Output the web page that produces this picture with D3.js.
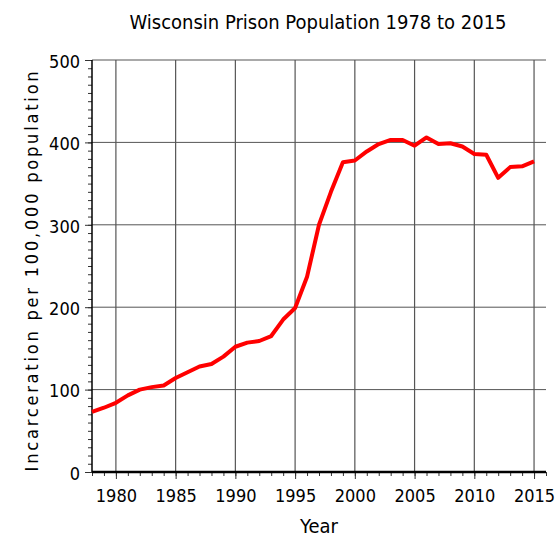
<!DOCTYPE html><html><head><script src="https://cdn.jsdelivr.net/npm/d3@7"></script>
<style>body{margin:0;background:#fff}</style></head><body><svg id="c" width="560" height="560"></svg>
<script>
const years=d3.range(1978,2016);
const values=[73,78,84,93,100,103,105,114,121,128,131,140,152,157,159,165,185,199,237,300,340,376,378,389,398,403,403,396,406,398,399,395,386,385,357,370,371,377];
const xTicks=[1980,1985,1990,1995,2000,2005,2010,2015];
const yTicks=[0,100,200,300,400,500];
const svg=d3.select("#c"),L=92,R=546,T=60,B=472;
const F="'DejaVu Sans Condensed','DejaVu Sans',sans-serif";
const x=d3.scaleLinear().domain([1978,2016]).range([L,R]);
const y=d3.scaleLinear().domain([0,500]).range([B,T]);
const g=svg.append("g");
xTicks.forEach(t=>g.append("line").attr("x1",x(t)).attr("x2",x(t)).attr("y1",T).attr("y2",B).attr("stroke","#555").attr("stroke-width",1.2));
yTicks.forEach(t=>g.append("line").attr("x1",L).attr("x2",R).attr("y1",y(t)).attr("y2",y(t)).attr("stroke","#555").attr("stroke-width",1));
const xa=svg.append("g").attr("transform",`translate(0,${B})`).call(d3.axisBottom(x).tickValues(d3.range(1978,2017)).tickSize(4).tickFormat(""));
const xb=svg.append("g").attr("transform",`translate(0,${B})`).call(d3.axisBottom(x).tickValues(xTicks).tickSize(7).tickFormat(d3.format("d")));
const ya=svg.append("g").attr("transform",`translate(${L},0)`).call(d3.axisLeft(y).tickValues(d3.range(0,501,10)).tickSize(4).tickFormat(""));
const yb=svg.append("g").attr("transform",`translate(${L},0)`).call(d3.axisLeft(y).tickValues(yTicks).tickSize(7));
[xa,xb,ya,yb].forEach(a=>{a.select(".domain").remove();a.selectAll("line").attr("stroke","#333");a.selectAll("text").attr("font-family",F).attr("font-size",18).attr("fill","#000");});
xb.selectAll("text").attr("dy","1.1em");
yb.selectAll("text").attr("dy","0.4em").attr("dx","-2");
svg.append("line").attr("x1",L).attr("x2",R).attr("y1",B).attr("y2",B).attr("stroke","#000").attr("stroke-width",2.5);
svg.append("line").attr("x1",L).attr("x2",L).attr("y1",T).attr("y2",B).attr("stroke","#000").attr("stroke-width",1.5);
svg.append("path").datum(values).attr("fill","none").attr("stroke","#ff0000").attr("stroke-width",4).attr("stroke-linejoin","round")
 .attr("d",d3.line().x((d,i)=>x(years[i])).y(d=>y(d)));
svg.append("text").attr("x",318).attr("y",29).attr("text-anchor","middle").attr("font-family",F).attr("font-size",20).text("Wisconsin Prison Population 1978 to 2015");
svg.append("text").attr("x",319).attr("y",533).attr("text-anchor","middle").attr("font-family",F).attr("font-size",20).text("Year");
svg.append("text").attr("transform","translate(38,270) rotate(-90)").attr("text-anchor","middle").attr("font-family",F).attr("font-size",18).attr("letter-spacing",2.8).text("Incarceration per 100,000 population");
</script></body></html>
